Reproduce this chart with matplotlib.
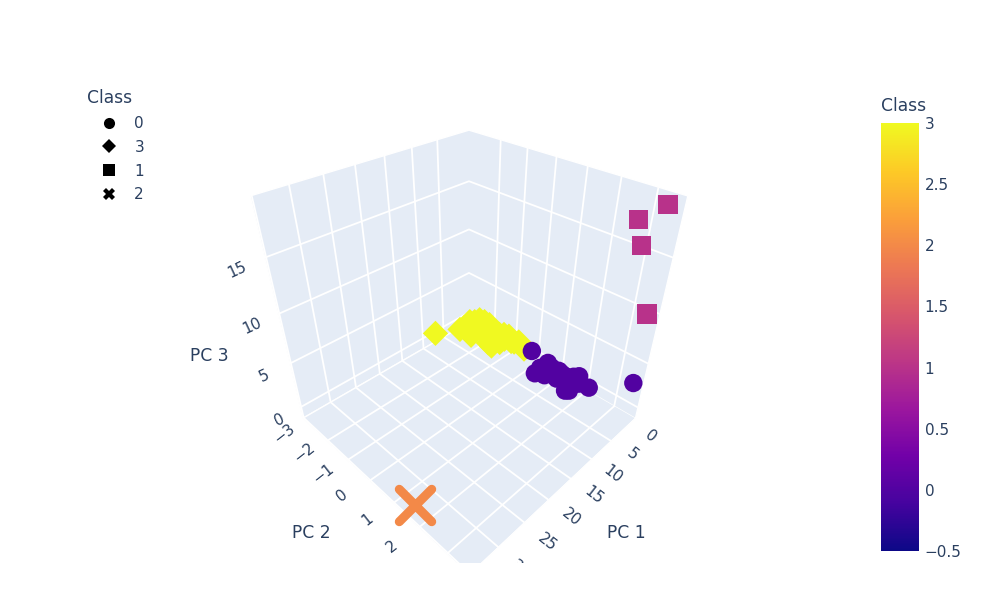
import numpy as np
import matplotlib
matplotlib.use('Agg')
import matplotlib.pyplot as plt
from matplotlib.cm import ScalarMappable
from matplotlib.colors import LinearSegmentedColormap, Normalize
from matplotlib.lines import Line2D
from matplotlib.patches import Rectangle
from mpl_toolkits.mplot3d import proj3d

# axis ranges and ticks
x_range = (-6.73, 30.2)
y_range = (-4.28, 2.74)
z_range = (-1.34, 19.77)
x_ticks = [0, 5, 10, 15, 20, 25, 30]
y_ticks = [-3, -2, -1, 0, 1, 2]
z_ticks = [0, 5, 10, 15]
cbar_ticks = [-0.5, 0, 0.5, 1, 1.5, 2, 2.5, 3]
cbar_labels = ['−0.5', '0', '0.5', '1', '1.5', '2', '2.5', '3']

# class 0
pc1_0 = [-2.88, -0.45, -2.31, -1.99, -1.72, -2.49, 1.07, 0.65, -2.04, -1.79, -1.74, -1.71, -1.81, 0.14, -1.36,
         0.47, -0.24, -1.19, 1.18, -3.19, -4.1]
pc2_0 = [-0.74, -0.03, -0.01, 0.46, 0.79, 0.94, 1.13, 1.21, 1.54, 0.22, 0.61, 1.23, 0.03, 1.07, 1.1,
         0.28, 0.63, 1.06, 0.02, 1.04, 2.66]
pc3_0 = [1.75, 1.75, 1.75, 1.75, 1.75, 1.75, 1.75, 1.75, 1.75, 1.75, 1.75, 1.75, 1.75, 1.75, 1.75,
         1.75, 1.75, 1.75, 1.75, 1.75, 3.65]
# class 3
pc1_3 = [4.34, -0.44, -2.47, -4.16, -4.31, -2.77, 0.05, -2.93, -3.51, -3.24, -4.35, -3.09, -3.38, 0.47,
         -1.68, -3.27, -4.13, -4.18, -0.21, 0.33, -1.76, -3.95]
pc2_3 = [-3.76, -3.32, -3.43, -3.27, -2.83, -2.33, -1.96, -1.91, -1.58, -1.11, -3.07, -3.31, -2.21, -3.34,
         -1.90, -1.67, -1.48, -1.92, -2.15, -2.84, -2.57, -2.10]
pc3_3 = [1.25] * 22
# class 1
pc1_1 = [-3.5, -3.0, -3.0, -3.0]
pc2_1 = [2.6, 2.02, 2.21, 2.71]
pc3_1 = [19.6, 18.0, 16.2, 11.0]
# class 2
pc1_2 = [30.0]
pc2_2 = [0.88]
pc3_2 = [0.85]

legend_labels = ['0', '3', '1', '2']
legend_markers = ['o', 'D', 's', 'X']
legend_sizes = [8, 7, 8, 9]

plasma = ['#0d0887', '#46039f', '#7201a8', '#9c179e', '#bd3786', '#d8576b', '#ed7953', '#fb9f3a', '#fdca26', '#f0f921']
cmap = LinearSegmentedColormap.from_list('plasma_px', plasma)
norm = Normalize(-0.5, 3)
text_col = '#2a3f5f'
W, H = 998, 614

fig = plt.figure(figsize=(W / 100, H / 100), dpi=100)
ax = fig.add_axes([238.1 / W, 1 - 553.2 / H, 449.6 / W, 449.6 / H], projection='3d', computed_zorder=False)
ax.set_box_aspect((1, 1, 1))
ax.set_proj_type('persp', focal_length=0.2333)
ax.view_init(elev=35.26, azim=45)
ax.set_xlim(*x_range)
ax.set_ylim(*y_range)
ax.set_zlim(*z_range)
ax.set_xticks(x_ticks)
ax.set_yticks(y_ticks)
ax.set_zticks(z_ticks)
ax.set_xticklabels([])
ax.set_yticklabels([])
ax.set_zticklabels([])
for axis in (ax.xaxis, ax.yaxis, ax.zaxis):
    axis.set_pane_color('#E5ECF6')
    axis.pane.set_edgecolor('white')
    axis.line.set_color('white')
    axis._axinfo['grid'].update(color='white', linewidth=1.3)
    axis._axinfo['tick'].update(inward_factor=0, outward_factor=0)


def draw_class(xs, ys, zs, cls, marker, size, order):
    return ax.scatter(xs, ys, zs, c=np.full(len(xs), cls), cmap=cmap, norm=norm, marker=marker, s=size,
                      edgecolors='none', depthshade=False, zorder=order)


draw_class(pc1_3, pc2_3, pc3_3, 3, 'D', 165, 3)
draw_class(pc1_0, pc2_0, pc3_0, 0, 'o', 175, 4)
draw_class(pc1_1, pc2_1, pc3_1, 1, 's', 190, 5)
cross = ax.scatter(pc1_2, pc2_2, pc3_2, c=[2], cmap=cmap, norm=norm, marker='x', s=545, linewidths=6.5,
                   depthshade=False, zorder=6)
cross.set_capstyle('round')


def tick_label(x, y, z, text, dx, dy, rot):
    # place label by pixel offset from projected tick
    u, v, _ = proj3d.proj_transform(x, y, z, ax.get_proj())
    ax.annotate(text, xy=(u, v), xycoords='data', xytext=(dx, dy), textcoords='offset pixels', ha='center',
                va='center', rotation=rot, rotation_mode='anchor', fontsize=11, color=text_col, annotation_clip=False)


x_dx = [39, 41, 42, 45, 47, 49, 50]
for t, dx in zip(x_ticks, x_dx):
    tick_label(t, y_range[1], z_range[0], str(t), dx, 5, -38)
y_dx = [-42, -43, -46, -51, -51, -55]
for t, dx in zip(y_ticks, y_dx):
    tick_label(x_range[1], t, z_range[0], str(t).replace('-', '−'), dx, 8, 38)
z_dx = [-21, -25, -26, -28]
for t, dx in zip(z_ticks, z_dx):
    tick_label(x_range[1], y_range[0], t, str(t), dx, -12, 25)

# scene is cut off at the bottom in the original
fig.add_artist(Rectangle((0, 0), 1, 51 / H, transform=fig.transFigure, facecolor='white', edgecolor='none', zorder=5))

fig.text(626 / W, 1 - 533 / H, 'PC 1', fontsize=12.3, color=text_col, ha='center', va='center', zorder=6)
fig.text(311 / W, 1 - 533 / H, 'PC 2', fontsize=12.3, color=text_col, ha='center', va='center', zorder=6)
fig.text(209 / W, 1 - 356 / H, 'PC 3', fontsize=12.3, color=text_col, ha='center', va='center', zorder=6)

# colorbar
cax = fig.add_axes([881 / W, 1 - 551 / H, 38 / W, 428 / H])
cb = fig.colorbar(ScalarMappable(norm=norm, cmap=cmap), cax=cax, ticks=cbar_ticks)
cb.ax.set_yticklabels(cbar_labels)
cb.ax.tick_params(length=0, pad=4, labelsize=11, labelcolor=text_col)
cb.outline.set_visible(False)
cax.set_title('Class', loc='left', fontsize=12.3, color=text_col, pad=8.5)

# legend
handles = [Line2D([], [], marker=m, color='black', ls='', ms=s, mew=0) for m, s in zip(legend_markers, legend_sizes)]
leg = fig.legend(handles, legend_labels, title='Class', loc='upper left', bbox_to_anchor=(87 / W, 1 - 89 / H),
                 frameon=False, borderpad=0, borderaxespad=0, handlelength=2.9, handletextpad=0.2, labelspacing=0.58,
                 fontsize=11, title_fontsize=12.3, alignment='left', labelcolor=text_col)
leg.get_title().set_color(text_col)

fig.savefig('out.png', dpi=100)
